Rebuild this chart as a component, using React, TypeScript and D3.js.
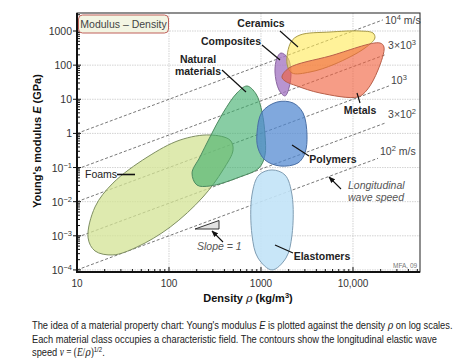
import React, { useLayoutEffect, useRef, useState } from 'react';
import * as d3 from 'd3';

// ---------- data ----------
const densityTicks = [10, 100, 1000, 10000];
const densityTickLabels = ['10', '100', '1000', '10,000'];
const modulusTicks = [1e-4, 1e-3, 1e-2, 1e-1, 1, 10, 100, 1000];
const modulusTickBase = ['10', '10', '10', '10', '1', '10', '100', '1000'];
const modulusTickExp = ['−4', '−3', '−2', '−1', '', '', '', ''];

const waveSpeeds = [100, 300, 1000, 3000, 10000]; // m/s
const waveSpeedEnds = [18700, 22900, 24600, 22900, 21200]; // density where contour stops
const waveSpeedBase = ['10', '3×10', '10', '3×10', '10'];
const waveSpeedExp = ['2', '2', '3', '3', '4'];
const waveSpeedUnit = [' m/s', '', '', '', ' m/s'];

type P = [number, number]; // [density kg/m3, modulus GPa]
const foams: P[] = [
  [13.2, 8.7e-4], [15.7, 7.0e-3], [24.6, 0.035], [57.7, 0.2], [132, 0.64], [279, 0.9],
  [460, 0.64], [497, 0.33], [386, 0.085], [234, 0.0137], [103, 1.8e-3], [44.9, 4.7e-4],
  [24.6, 2.75e-4], [15.7, 3.6e-4],
];
const naturalMaterials: P[] = [
  [705, 24.5], [883, 14.3], [1026, 4.24], [1105, 0.9], [1105, 0.233], [951, 0.097],
  [591, 0.053], [279, 0.0288], [201, 0.0308], [178, 0.0693], [217, 0.204], [279, 0.785],
  [386, 3.96], [548, 15.3],
];
const polymers: P[] = [
  [905, 1.03], [1026, 4.24], [1493, 8.3], [2228, 7.8], [2864, 3.96], [3162, 0.9],
  [3006, 0.267], [2523, 0.136], [1610, 0.111], [1105, 0.166], [927, 0.374],
];
const elastomers: P[] = [
  [1318, 0.085], [1824, 0.0605], [2173, 0.0157], [2173, 1.06e-3], [1871, 2.25e-4],
  [1318, 1.0e-4], [927, 2.25e-4], [798, 1.06e-3], [798, 0.0157], [951, 0.0605],
];
const composites: P[] = [
  [1648, 227], [1963, 162], [2118, 63], [2014, 21.4], [1824, 12.5], [1570, 18.7],
  [1419, 63], [1493, 162],
];
const ceramics: P[] = [
  [1919, 108], [2118, 476], [2655, 764], [5623, 935], [11900, 1000], [16500, 873],
  [17300, 624], [13500, 318], [6368, 108], [3412, 63], [2173, 58.9],
];
const metals: P[] = [
  [1690, 45], [2014, 82.4], [5623, 185], [19600, 446], [21700, 340], [18700, 72],
  [14200, 18.7], [11300, 11.7], [4375, 15.3], [2460, 24.5], [1824, 34.3],
];

const regions = [
  { name: 'foams', pts: foams, fill: '#d3e394', op: 0.75, stroke: '#7f8f62' },
  { name: 'natural', pts: naturalMaterials, fill: '#3fae6c', op: 0.62, stroke: '#4d8a60' },
  { name: 'polymers', pts: polymers, fill: '#4f86d0', op: 0.72, stroke: '#4a6fa5' },
  { name: 'elastomers', pts: elastomers, fill: '#c2e3f7', op: 0.9, stroke: '#7f9db3' },
  { name: 'composites', pts: composites, fill: '#a679c4', op: 0.8, stroke: '#8a66a0' },
  { name: 'ceramics', pts: ceramics, fill: '#ffea55', op: 0.6, stroke: '#a89a48' },
  { name: 'metals', pts: metals, fill: '#f0603c', op: 0.62, stroke: '#b8604a' },
];

// ---------- layout ----------
const W = 474;
const H = 358;
const L = 77, R = 420, T = 13, B = 272;
const captionWidths = [421, 405];
const captionBaselines = [329, 343, 356];

export default function App() {
  const x = d3.scaleLog().domain([10, 53500]).range([L, R]);
  const y = d3.scaleLog().domain([8.7e-5, 3370]).range([B, T]);
  const area = d3
    .line<P>()
    .x((d) => x(d[0]))
    .y((d) => y(d[1]))
    .curve(d3.curveCatmullRomClosed.alpha(0.5));

  const capRefs = useRef<(SVGTextElement | null)[]>([]);
  const [capScale, setCapScale] = useState<number[]>([0.8, 0.8, 0.8]);
  useLayoutEffect(() => {
    const s = [0, 1].map((i) => {
      const el = capRefs.current[i];
      if (!el) return 0.8;
      const w = el.getBBox().width;
      return w > 0 ? captionWidths[i] / w : 0.8;
    });
    setCapScale([s[0], s[1], (s[0] + s[1]) / 2]);
  }, []);

  const sans = 'Liberation Sans, Arial, sans-serif';
  const xMinor: number[] = [];
  for (let e = 1; e <= 4; e++) for (let m = 2; m <= 9; m++) { const v = m * 10 ** e; if (v < 53500) xMinor.push(v); }
  const yMinor: number[] = [];
  for (let e = -4; e <= 3; e++) for (let m = 2; m <= 9; m++) { const v = m * 10 ** e; if (v < 3370) yMinor.push(v); }

  const modulusAt = (v: number, rho: number) => v * v * rho * 1e-9;
  const labelDy = [-3, -5, -2, -5, 4];

  const serif = 'Liberation Serif, serif';
  const captionLines = [
    <>The idea of a material property chart: Young's modulus <tspan fontStyle="italic">E</tspan> is plotted against the density <tspan fontStyle="italic" fontFamily="DejaVu Serif, serif">ρ</tspan> on log scales.</>,
    <>Each material class occupies a characteristic field. The contours show the longitudinal elastic wave</>,
    <>speed <tspan fontStyle="italic" fontFamily={serif}>v</tspan><tspan fontFamily={serif}> = (</tspan><tspan fontStyle="italic" fontFamily={serif}>E</tspan><tspan fontFamily={serif}>/</tspan><tspan fontStyle="italic" fontFamily="DejaVu Serif, serif">ρ</tspan><tspan fontFamily={serif}>)</tspan><tspan fontSize={7.5} dy={-4}>1/2</tspan><tspan dy={4}>.</tspan></>,
  ];

  return (
    <svg width={W} height={H} style={{ position: 'absolute', left: 0, top: 0, background: '#fff' }} fontFamily={sans}>
      <defs>
        <clipPath id="plot"><rect x={L} y={T} width={R - L} height={B - T} /></clipPath>
        <marker id="arr" viewBox="0 0 10 10" refX="9" refY="5" markerWidth="6" markerHeight="6" orient="auto">
          <path d="M0,1 L10,5 L0,9 z" fill="#111" />
        </marker>
      </defs>

      {/* grid */}
      <g stroke="#c8c8c8" strokeWidth={0.8} strokeDasharray="1.5,1">
        {densityTicks.slice(1).map((d) => <line key={'gx' + d} x1={x(d)} x2={x(d)} y1={T} y2={B} />)}
        {modulusTicks.map((d) => <line key={'gy' + d} x1={L} x2={R} y1={y(d)} y2={y(d)} />)}
      </g>

      {/* wave speed contours */}
      <g clipPath="url(#plot)" stroke="#555" strokeWidth={0.8} strokeDasharray="3,2" fill="none">
        {waveSpeeds.map((v, i) => (
          <line key={'v' + v} x1={x(10)} y1={y(modulusAt(v, 10))} x2={x(waveSpeedEnds[i])} y2={y(modulusAt(v, waveSpeedEnds[i]))} />
        ))}
      </g>
      {waveSpeeds.map((v, i) => (
        <text key={'vl' + v} x={x(waveSpeedEnds[i]) + 2} y={y(modulusAt(v, waveSpeedEnds[i])) + labelDy[i]} fontSize={10.5} fill="#444">
          {waveSpeedBase[i]}
          <tspan fontSize={7.5} dy={-4}>{waveSpeedExp[i]}</tspan>
          <tspan dy={4}>{waveSpeedUnit[i]}</tspan>
        </text>
      ))}

      {/* material fields */}
      {regions.map((r) => (
        <path key={r.name} d={area(r.pts) || ''} fill={r.fill} fillOpacity={r.op} stroke={r.stroke} strokeWidth={1} />
      ))}

      {/* frame & ticks */}
      <rect x={L} y={T} width={R - L} height={B - T} fill="none" stroke="#333" strokeWidth={1.1} />
      <line x1={L} x2={L} y1={T} y2={B + 1} stroke="#111" strokeWidth={2} />
      <line x1={L - 1} x2={R} y1={B} y2={B} stroke="#111" strokeWidth={2} />
      <g stroke="#111" strokeWidth={1}>
        {densityTicks.map((d) => <line key={'tx' + d} x1={x(d)} x2={x(d)} y1={B} y2={B - 5} />)}
        {xMinor.map((d) => <line key={'mx' + d} x1={x(d)} x2={x(d)} y1={B} y2={B - 3} />)}
        {modulusTicks.map((d) => <line key={'ty' + d} x1={L - 4} x2={L + 4} y1={y(d)} y2={y(d)} />)}
        {yMinor.map((d) => <line key={'my' + d} x1={L} x2={L + 3} y1={y(d)} y2={y(d)} />)}
      </g>

      {/* tick labels */}
      {densityTicks.map((d, i) => (
        <text key={'lx' + d} x={x(d)} y={B + 15} textAnchor="middle" fontSize={10} fill="#333">{densityTickLabels[i]}</text>
      ))}
      {modulusTicks.map((d, i) => (
        <text key={'ly' + d} x={72} y={y(d) + 4} textAnchor="end" fontSize={10.5} fill="#333">
          {modulusTickBase[i]}
          {modulusTickExp[i] ? <tspan fontSize={7.5} dy={-4}>{modulusTickExp[i]}</tspan> : null}
        </text>
      ))}

      {/* axis titles */}
      <text x={248} y={302} textAnchor="middle" fontSize={11} fontWeight="bold" fill="#111">
        Density <tspan fontStyle="italic" fontFamily="DejaVu Serif, serif" fontWeight="normal">ρ</tspan> (kg/m<tspan fontSize={7.5} dy={-4}>3</tspan><tspan dy={4}>)</tspan>
      </text>
      <text transform="translate(41,141) rotate(-90)" textAnchor="middle" fontSize={11} fontWeight="bold" fill="#111">
        Young's modulus <tspan fontStyle="italic">E</tspan> (GPa)
      </text>

      {/* title box */}
      <rect x={78.5} y={15} width={90} height={18} rx={4} fill="#f3f5e3" stroke="#c0605a" strokeWidth={1} />
      <text x={123.5} y={28} textAnchor="middle" fontSize={10.5} fill="#444">Modulus – Density</text>

      {/* labels and leaders */}
      <g fontSize={10.5} fontWeight="bold" fill="#222">
        <text x={261} y={27} textAnchor="middle">Ceramics</text>
        <text x={231} y={45} textAnchor="middle">Composites</text>
        <text x={198} y={63} textAnchor="middle">Natural</text>
        <text x={198} y={75} textAnchor="middle">materials</text>
        <text x={360} y={114} textAnchor="middle">Metals</text>
        <text x={333} y={163} textAnchor="middle">Polymers</text>
        <text x={322} y={260} textAnchor="middle">Elastomers</text>
        <text x={85} y={178} fontWeight="normal" fill="#222">Foams</text>
      </g>
      <g stroke="#111" strokeWidth={1.2}>
        <line x1={280} y1={31} x2={298} y2={47} />
        <line x1={262} y1={45} x2={280} y2={60} />
        <line x1={222} y1={70} x2={246} y2={92} />
        <line x1={357} y1={93} x2={360} y2={103} />
        <line x1={292} y1={145} x2={309} y2={156} />
        <line x1={275} y1={245} x2={293} y2={253} />
        <line x1={117} y1={174.5} x2={135} y2={174.5} strokeWidth={1.6} />
      </g>

      {/* slope triangle */}
      <path d={`M195,229 L219,220.5 L219,229 Z`} fill="#e2e2e2" stroke="#222" strokeWidth={0.9} />
      <line x1={223} y1={242} x2={212} y2={231} stroke="#111" strokeWidth={1.1} markerEnd="url(#arr)" />
      <text x={197} y={250} fontSize={10.5} fontStyle="italic" fill="#555">Slope = 1</text>

      {/* wave speed annotation */}
      <line x1={341} y1={189} x2={329} y2={177} stroke="#111" strokeWidth={1.1} markerEnd="url(#arr)" />
      <text x={348} y={189} fontSize={10.5} fontStyle="italic" fill="#555">Longitudinal</text>
      <text x={348} y={201} fontSize={10.5} fontStyle="italic" fill="#555">wave speed</text>

      <text x={393} y={268} fontSize={6.5} fill="#777">MFA, 09</text>

      {/* caption */}
      <g fontSize={11.5} fill="#222">
        {captionLines.map((c, i) => (
          <text
            key={'cap' + i}
            ref={(el) => { capRefs.current[i] = el; }}
            transform={`translate(32,${captionBaselines[i]}) scale(${capScale[i]},1)`}
            x={0}
            y={0}
          >
            {c}
          </text>
        ))}
      </g>
    </svg>
  );
}
